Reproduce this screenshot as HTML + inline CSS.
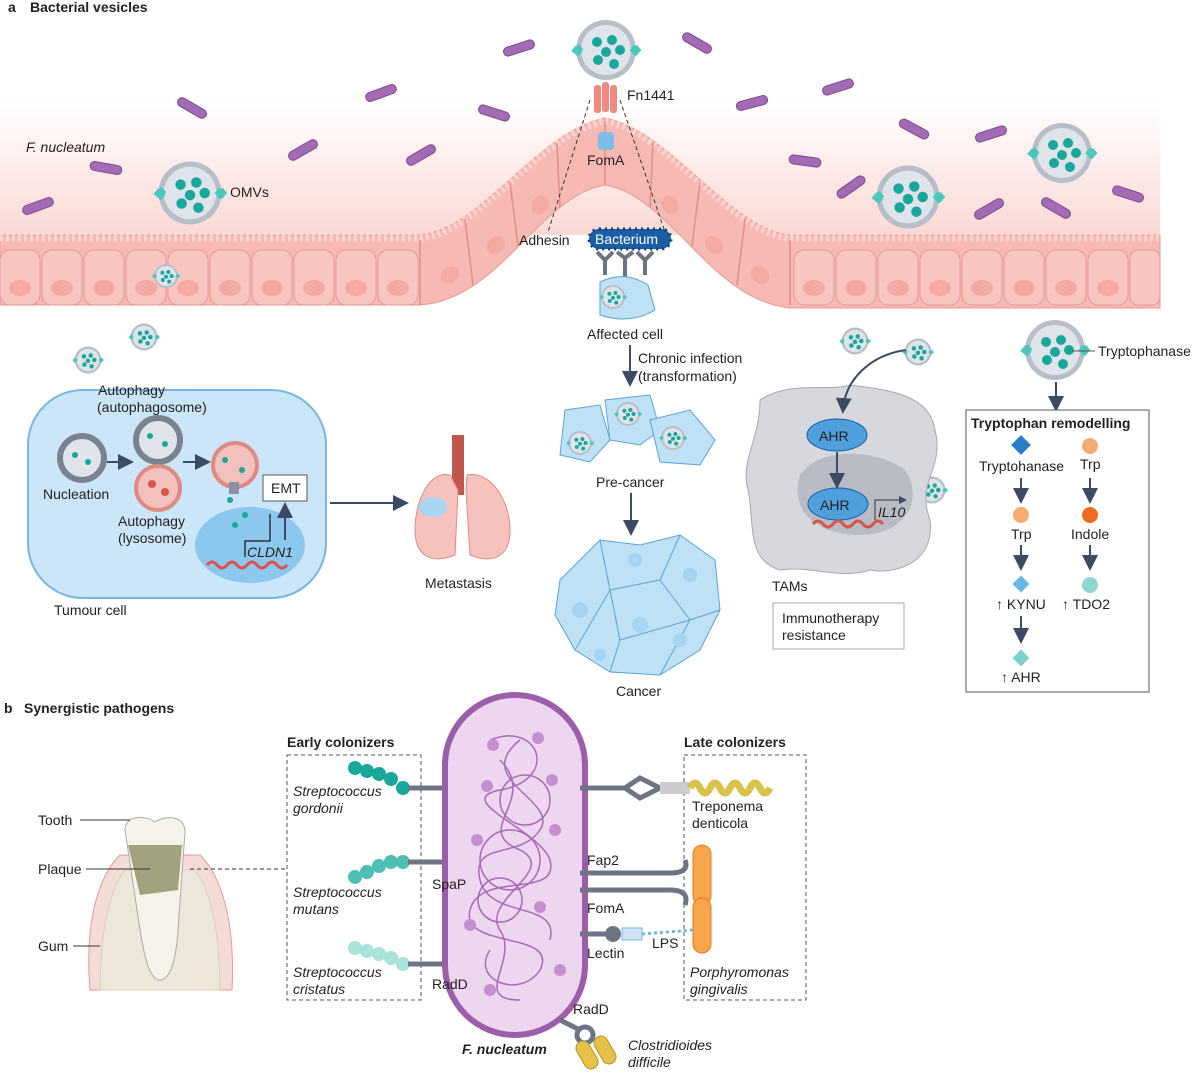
<!DOCTYPE html>
<html><head><meta charset="utf-8"><style>
body{margin:0;background:#fff}
svg{display:block;font-family:"Liberation Sans",sans-serif}
text{fill:#231f20;font-size:14px}
.b{font-weight:bold}
.i{font-style:italic}
</style></head><body>
<svg width="1200" height="1073" viewBox="0 0 1200 1073">
<defs>
<linearGradient id="pk" x1="0" y1="0" x2="0" y2="1"><stop offset="0" stop-color="#fff"/><stop offset="1" stop-color="#fbd9d5"/></linearGradient>
<marker id="ar" markerWidth="8" markerHeight="8" refX="6" refY="4" orient="auto"><path d="M0,0L8,4L0,8z" fill="#3d4a63"/></marker>
<g id="ves"><circle r="30" fill="#b8bec8"/><circle r="25" fill="#dfe3ea"/><circle r="5" cx="-9" cy="-8" fill="#1aa79b"/><circle r="5" cx="6" cy="-10" fill="#1aa79b"/><circle r="5" cx="0" cy="2" fill="#1aa79b"/><circle r="5" cx="14" cy="0" fill="#1aa79b"/><circle r="5" cx="-8" cy="10" fill="#1aa79b"/><circle r="5" cx="8" cy="14" fill="#1aa79b"/><rect x="-26" y="-22" width="9" height="7" fill="#4cc7bb" transform="rotate(-40)"/><rect x="18" y="-22" width="9" height="7" fill="#4cc7bb" transform="rotate(40)"/><rect x="-26" y="16" width="9" height="7" fill="#4cc7bb" transform="rotate(40)"/><rect x="18" y="16" width="9" height="7" fill="#4cc7bb" transform="rotate(-40)"/></g>
<g id="rod"><rect x="-16" y="-4.5" width="32" height="9" rx="4.5" fill="#a46bb5" stroke="#7b4a8c"/></g>
</defs>
<!-- section a -->
<text x="8" y="12" class="b" font-size="16">a</text><text x="30" y="12" class="b" font-size="15">Bacterial vesicles</text>
<path d="M0,100 H1160 V235 H0z" fill="url(#pk)"/>
<path d="M0,235 H420 C480,230 540,130 605,118 C670,130 730,230 790,235 H1160 V308 H790 C710,300 670,195 605,185 C540,195 500,300 420,305 H0z" fill="#f6b9b3" stroke="#e79a94"/>
<path d="M0,238 H420 C480,233 540,133 605,121 C670,133 730,233 790,238 H1160" stroke="#fbd3cf" stroke-width="7" stroke-dasharray="3 3" fill="none"/>
<g fill="#f9c5c0" stroke="#e49a94">
<rect x="0" y="250" width="40" height="55" rx="10"/><rect x="42" y="250" width="40" height="55" rx="10"/><rect x="84" y="250" width="40" height="55" rx="10"/><rect x="126" y="250" width="40" height="55" rx="10"/><rect x="168" y="250" width="40" height="55" rx="10"/><rect x="210" y="250" width="40" height="55" rx="10"/><rect x="252" y="250" width="40" height="55" rx="10"/><rect x="294" y="250" width="40" height="55" rx="10"/><rect x="336" y="250" width="40" height="55" rx="10"/><rect x="378" y="250" width="40" height="55" rx="10"/>
<rect x="794" y="250" width="40" height="55" rx="10"/><rect x="836" y="250" width="40" height="55" rx="10"/><rect x="878" y="250" width="40" height="55" rx="10"/><rect x="920" y="250" width="40" height="55" rx="10"/><rect x="962" y="250" width="40" height="55" rx="10"/><rect x="1004" y="250" width="40" height="55" rx="10"/><rect x="1046" y="250" width="40" height="55" rx="10"/><rect x="1088" y="250" width="40" height="55" rx="10"/><rect x="1130" y="250" width="30" height="55" rx="8"/>
</g>
<g stroke="#e08f89" stroke-width="1.5">
<line x1="465" y1="219" x2="473" y2="285"/><line x1="510" y1="182" x2="518" y2="246"/><line x1="557" y1="143" x2="560" y2="207"/><line x1="605" y1="121" x2="605" y2="185"/>
<line x1="745" y1="219" x2="737" y2="285"/><line x1="700" y1="182" x2="692" y2="246"/><line x1="653" y1="143" x2="650" y2="207"/>
<line x1="420" y1="240" x2="420" y2="305"/><line x1="790" y1="240" x2="790" y2="305"/>
</g>
<g fill="#f4aaa3"><ellipse cx="20" cy="288" rx="11" ry="8"/><ellipse cx="62" cy="288" rx="11" ry="8"/><ellipse cx="104" cy="288" rx="11" ry="8"/><ellipse cx="146" cy="288" rx="11" ry="8"/><ellipse cx="188" cy="288" rx="11" ry="8"/><ellipse cx="230" cy="288" rx="11" ry="8"/><ellipse cx="272" cy="288" rx="11" ry="8"/><ellipse cx="314" cy="288" rx="11" ry="8"/><ellipse cx="356" cy="288" rx="11" ry="8"/><ellipse cx="398" cy="288" rx="11" ry="8"/><ellipse cx="814" cy="288" rx="11" ry="8"/><ellipse cx="856" cy="288" rx="11" ry="8"/><ellipse cx="898" cy="288" rx="11" ry="8"/><ellipse cx="940" cy="288" rx="11" ry="8"/><ellipse cx="982" cy="288" rx="11" ry="8"/><ellipse cx="1024" cy="288" rx="11" ry="8"/><ellipse cx="1066" cy="288" rx="11" ry="8"/><ellipse cx="1108" cy="288" rx="11" ry="8"/>
<ellipse cx="450" cy="275" rx="10" ry="8" transform="rotate(-35 450 275)"/><ellipse cx="496" cy="245" rx="10" ry="8" transform="rotate(-45 496 245)"/><ellipse cx="540" cy="205" rx="10" ry="8" transform="rotate(-60 540 205)"/><ellipse cx="760" cy="275" rx="10" ry="8" transform="rotate(35 760 275)"/><ellipse cx="714" cy="245" rx="10" ry="8" transform="rotate(45 714 245)"/><ellipse cx="670" cy="205" rx="10" ry="8" transform="rotate(60 670 205)"/></g>
<!-- rods -->
<use href="#rod" transform="translate(519,48) rotate(-18)"/><use href="#rod" transform="translate(192,108) rotate(30)"/><use href="#rod" transform="translate(381,93) rotate(-20)"/><use href="#rod" transform="translate(494,113) rotate(18)"/><use href="#rod" transform="translate(303,150) rotate(-30)"/><use href="#rod" transform="translate(421,155) rotate(-30)"/><use href="#rod" transform="translate(106,168) rotate(10)"/><use href="#rod" transform="translate(38,206) rotate(-20)"/><use href="#rod" transform="translate(697,43) rotate(30)"/><use href="#rod" transform="translate(752,103) rotate(-15)"/><use href="#rod" transform="translate(838,87) rotate(-18)"/><use href="#rod" transform="translate(914,129) rotate(28)"/><use href="#rod" transform="translate(991,134) rotate(-18)"/><use href="#rod" transform="translate(805,161) rotate(8)"/><use href="#rod" transform="translate(851,187) rotate(-35)"/><use href="#rod" transform="translate(989,209) rotate(-30)"/><use href="#rod" transform="translate(1056,208) rotate(30)"/><use href="#rod" transform="translate(1128,194) rotate(18)"/>
<!-- vesicles -->
<use href="#ves" transform="translate(606,50)"/><use href="#ves" transform="translate(190,193) scale(1.05)"/><use href="#ves" transform="translate(1062,153)"/><use href="#ves" transform="translate(908,197) scale(1.05)"/>
<use href="#ves" transform="translate(166,276) scale(.4)"/><use href="#ves" transform="translate(144,337) scale(.45)"/><use href="#ves" transform="translate(88,360) scale(.45)"/><use href="#ves" transform="translate(60,411) scale(.45)"/><use href="#ves" transform="translate(855,341) scale(.45)"/><use href="#ves" transform="translate(918,352) scale(.45)"/><use href="#ves" transform="translate(1055,350)"/><use href="#ves" transform="translate(932,490) scale(.45)"/>
<text x="26" y="152" class="i">F. nucleatum</text><text x="230" y="197">OMVs</text>
<!-- receptor -->
<g fill="#ee8a80"><rect x="594" y="85" width="7" height="28" rx="3"/><rect x="602" y="82" width="7" height="30" rx="3"/><rect x="610" y="85" width="7" height="28" rx="3"/></g>
<rect x="598" y="132" width="16" height="18" rx="4" fill="#7cbce8"/>
<text x="627" y="100">Fn1441</text><text x="587" y="165">FomA</text>
<path d="M590,100 L548,232 M620,100 L665,232" stroke="#333" stroke-dasharray="4 3" fill="none"/>
<text x="519" y="245">Adhesin</text>
<rect x="589" y="229" width="82" height="20" rx="10" fill="#1c5ea6" stroke="#0d3d73" stroke-width="3" stroke-dasharray="2 4"/>
<text x="595" y="244" style="fill:#fff">Bacterium</text>
<g stroke="#6e7483" stroke-width="4" fill="none"><path d="M605,260 V275 M625,258 V280 M645,260 V275 M597,252 L605,260 L613,252 M617,252 L625,258 L633,252 M637,252 L645,260 L653,252"/></g>
<path d="M600,282 Q625,270 648,285 L655,310 Q630,325 600,315 Z" fill="#bfe1f6" stroke="#5ba2d8"/>
<use href="#ves" transform="translate(613,297) scale(.4)"/>
<text x="587" y="339">Affected cell</text>
<line x1="630" y1="345" x2="630" y2="383" stroke="#3d4a63" stroke-width="2" marker-end="url(#ar)"/>
<text x="638" y="363">Chronic infection</text><text x="638" y="381">(transformation)</text>
<!-- precancer -->
<g fill="#bfe1f6" stroke="#5ba2d8"><path d="M565,410 L600,405 L610,440 L590,462 L560,455Z"/><path d="M605,400 L650,395 L660,430 L640,445 L610,440Z"/><path d="M650,420 L690,410 L715,440 L700,465 L660,462Z"/></g>
<use href="#ves" transform="translate(580,443) scale(.4)"/><use href="#ves" transform="translate(628,414) scale(.4)"/><use href="#ves" transform="translate(673,438) scale(.4)"/>
<text x="596" y="487">Pre-cancer</text>
<line x1="631" y1="493" x2="631" y2="532" stroke="#3d4a63" stroke-width="2" marker-end="url(#ar)"/>
<g fill="#bfe1f6" stroke="#5ba2d8"><path d="M560,580 L600,540 L640,545 L680,535 L715,560 L720,610 L700,650 L660,675 L610,672 L575,650 L555,615Z"/></g>
<g fill="none" stroke="#5ba2d8"><path d="M600,540 L610,590 L575,650 M610,590 L660,580 L680,535 M660,580 L690,620 L660,675 M690,620 L720,610 M610,590 L620,640 L610,672 M620,640 L690,620"/></g>
<g fill="#a6d3f0"><circle cx="580" cy="610" r="8"/><circle cx="635" cy="560" r="7"/><circle cx="690" cy="575" r="7"/><circle cx="640" cy="625" r="8"/><circle cx="600" cy="655" r="6"/><circle cx="680" cy="640" r="7"/></g>
<text x="616" y="696">Cancer</text>
<!-- tumour cell -->
<rect x="28" y="390" width="298" height="208" rx="55" fill="#cbe6f8" stroke="#7ab6e2" stroke-width="2"/>
<ellipse cx="250" cy="545" rx="55" ry="38" fill="#8cc7ee"/>
<circle cx="82" cy="458" r="22" fill="#dfe3ea" stroke="#7a8292" stroke-width="6"/>
<circle cx="158" cy="440" r="22" fill="#dfe3ea" stroke="#7a8292" stroke-width="6"/>
<circle cx="158" cy="488" r="22" fill="#f3c1bd" stroke="#e08a84" stroke-width="4"/>
<circle cx="235" cy="465" r="22" fill="#f3c1bd" stroke="#e08a84" stroke-width="4"/>
<g fill="#1aa79b"><circle cx="75" cy="455" r="3"/><circle cx="88" cy="462" r="3"/><circle cx="150" cy="436" r="3"/><circle cx="165" cy="444" r="3"/><circle cx="225" cy="460" r="3"/><circle cx="242" cy="470" r="3"/><circle cx="230" cy="500" r="3"/><circle cx="245" cy="515" r="3"/><circle cx="235" cy="525" r="3"/></g>
<g fill="#d9534f"><circle cx="152" cy="484" r="4"/><circle cx="165" cy="492" r="4"/></g>
<line x1="107" y1="462" x2="130" y2="462" stroke="#3d4a63" stroke-width="2" marker-end="url(#ar)"/>
<line x1="183" y1="462" x2="207" y2="462" stroke="#3d4a63" stroke-width="2" marker-end="url(#ar)"/>
<rect x="229" y="482" width="10" height="12" fill="#8a93a3"/>
<text x="98" y="395">Autophagy</text><text x="97" y="412">(autophagosome)</text>
<text x="43" y="499">Nucleation</text><text x="118" y="526">Autophagy</text><text x="118" y="543">(lysosome)</text>
<rect x="263" y="475" width="44" height="26" fill="#fff" stroke="#555"/><text x="271" y="493">EMT</text>
<path d="M245,557 V541 H270 V514" fill="none" stroke="#333" stroke-width="1.5"/>
<line x1="285" y1="540" x2="285" y2="506" stroke="#3d4a63" stroke-width="2" marker-end="url(#ar)"/>
<text x="247" y="557" class="i">CLDN1</text>
<path d="M207,565 q5,-6 10,0 t10,0 t10,0 t10,0 t10,0 t10,0 t10,0 t10,0" fill="none" stroke="#d9534f" stroke-width="3"/>
<text x="54" y="615">Tumour cell</text>
<line x1="330" y1="503" x2="405" y2="503" stroke="#3d4a63" stroke-width="2" marker-end="url(#ar)"/>
<!-- lungs -->
<rect x="452" y="435" width="12" height="60" fill="#c0574f"/>
<path d="M450,475 C430,470 415,500 415,530 C415,555 430,565 455,555 L458,490Z" fill="#f6c2bd" stroke="#e08a84"/>
<path d="M467,475 C490,470 510,500 510,530 C510,555 495,565 470,555 L466,490Z" fill="#f6c2bd" stroke="#e08a84"/>
<ellipse cx="433" cy="507" rx="14" ry="10" fill="#a9d5f3"/>
<text x="425" y="588">Metastasis</text>
<!-- macrophage -->
<path d="M760,400 C790,380 830,392 850,385 C890,390 930,395 935,430 C945,470 915,480 930,520 C935,560 900,575 870,570 C840,580 810,565 780,570 C745,560 755,520 748,490 C740,460 760,440 760,400Z" fill="#d6d8de" stroke="#a5a9b3"/>
<path d="M800,475 C820,445 880,450 905,470 C925,500 905,535 860,535 C810,535 790,505 800,475Z" fill="#b9bcc5"/>
<ellipse cx="837" cy="435" rx="30" ry="16" fill="#4e9fdc" stroke="#1c5ea6"/><text x="819" y="441">AHR</text>
<ellipse cx="838" cy="504" rx="30" ry="16" fill="#4e9fdc" stroke="#1c5ea6"/><text x="820" y="510">AHR</text>
<path d="M906,350 C870,355 845,380 843,410" fill="none" stroke="#3d4a63" stroke-width="2" marker-end="url(#ar)"/>
<line x1="837" y1="452" x2="837" y2="485" stroke="#3d4a63" stroke-width="2" marker-end="url(#ar)"/>
<path d="M875,520 V500 H905" fill="none" stroke="#333" marker-end="url(#ar)"/>
<text x="878" y="517" class="i">IL10</text>
<path d="M813,524 q5,-6 10,0 t10,0 t10,0 t10,0 t10,0 t10,0 t10,0" fill="none" stroke="#d9534f" stroke-width="3"/>
<text x="772" y="591">TAMs</text>
<rect x="773" y="603" width="131" height="46" fill="#fff" stroke="#aaa"/><text x="782" y="623">Immunotherapy</text><text x="782" y="640">resistance</text>
<!-- tryptophan -->
<line x1="1072" y1="351" x2="1095" y2="351" stroke="#555"/><text x="1098" y="356">Tryptophanase</text>
<line x1="1056" y1="382" x2="1056" y2="408" stroke="#3d4a63" stroke-width="2" marker-end="url(#ar)"/>
<rect x="966" y="410" width="183" height="282" fill="#fff" stroke="#555"/>
<text x="971" y="428" class="b" font-size="15">Tryptophan remodelling</text>
<rect x="1014" y="438" width="14" height="14" fill="#2a7cc7" transform="rotate(45 1021 445)"/><circle cx="1090" cy="446" r="8" fill="#f6ab72"/>
<text x="979" y="471" font-size="13">Tryptohanase</text><text x="1080" y="469" font-size="13">Trp</text>
<g stroke="#3d4a63" stroke-width="2" marker-end="url(#ar)"><line x1="1021" y1="478" x2="1021" y2="500"/><line x1="1090" y1="478" x2="1090" y2="500"/><line x1="1021" y1="545" x2="1021" y2="567"/><line x1="1090" y1="545" x2="1090" y2="567"/><line x1="1021" y1="616" x2="1021" y2="640"/></g>
<circle cx="1021" cy="515" r="8" fill="#f6ab72"/><circle cx="1090" cy="515" r="8" fill="#ec6b1f"/>
<text x="1011" y="539" font-size="13">Trp</text><text x="1071" y="539" font-size="13">Indole</text>
<rect x="1015" y="578" width="12" height="12" fill="#6cb3e6" transform="rotate(45 1021 584)"/><circle cx="1090" cy="585" r="8" fill="#8fd6d1"/>
<text x="996" y="609" font-size="13">↑ KYNU</text><text x="1062" y="609" font-size="13">↑ TDO2</text>
<rect x="1015" y="652" width="12" height="12" fill="#7fd1c8" transform="rotate(45 1021 658)"/>
<text x="1001" y="682" font-size="13">↑ AHR</text>
<!-- section b -->
<text x="4" y="713" class="b" font-size="16">b</text><text x="24" y="713" class="b" font-size="15">Synergistic pathogens</text>
<!-- tooth -->
<path d="M90,990 C85,930 95,880 120,855 L200,855 C225,880 235,930 232,990Z" fill="#f3dcd6" stroke="#e59a94"/>
<path d="M100,990 C100,930 110,890 125,870 L195,870 C210,890 220,930 220,990Z" fill="#ece7d8" stroke="#d8cfb6"/>
<path d="M125,830 C125,815 145,815 155,822 C165,815 185,815 185,832 L178,930 C175,975 165,980 160,980 C150,980 145,960 140,930Z" fill="#f6f3ea" stroke="#aaa"/>
<path d="M128,845 L182,845 L178,890 L140,895Z" fill="#8f8d63" opacity=".8"/>
<text x="38" y="825">Tooth</text><line x1="80" y1="820" x2="130" y2="820" stroke="#333"/>
<text x="38" y="874">Plaque</text><line x1="86" y1="869" x2="150" y2="869" stroke="#333"/>
<line x1="190" y1="869" x2="285" y2="869" stroke="#333" stroke-dasharray="4 3"/>
<text x="38" y="951">Gum</text><line x1="73" y1="946" x2="100" y2="946" stroke="#333"/>
<!-- early -->
<text x="287" y="747" class="b">Early colonizers</text>
<rect x="287" y="755" width="134" height="245" fill="none" stroke="#555" stroke-dasharray="4 3"/>
<g fill="#1aa79b"><circle cx="355" cy="768" r="7"/><circle cx="367" cy="771" r="7"/><circle cx="379" cy="774" r="7"/><circle cx="391" cy="779" r="7"/><circle cx="403" cy="788" r="7"/></g>
<g fill="#4dbfb3"><circle cx="355" cy="877" r="7"/><circle cx="367" cy="872" r="7"/><circle cx="379" cy="866" r="7"/><circle cx="391" cy="862" r="7"/><circle cx="403" cy="862" r="7"/></g>
<g fill="#a9e1db"><circle cx="355" cy="948" r="7"/><circle cx="367" cy="951" r="7"/><circle cx="379" cy="954" r="7"/><circle cx="391" cy="958" r="7"/><circle cx="403" cy="964" r="7"/></g>
<g stroke="#6e7483" stroke-width="5" fill="none"><path d="M408,788 H445 M408,862 H445 M408,964 H445"/></g>
<text x="293" y="796" class="i">Streptococcus</text><text x="293" y="813" class="i">gordonii</text>
<text x="293" y="897" class="i">Streptococcus</text><text x="293" y="914" class="i">mutans</text>
<text x="293" y="977" class="i">Streptococcus</text><text x="293" y="994" class="i">cristatus</text>
<!-- F nucleatum -->
<rect x="445" y="695" width="140" height="340" rx="70" fill="#eed5f0" stroke="#9b5ea9" stroke-width="6"/>
<g fill="none" stroke="#a76bb6" stroke-width="1.5"><path d="M490,740 C540,720 560,780 500,790 C450,800 540,830 550,860 C560,900 480,870 470,910 C460,950 560,930 540,970 C520,1000 470,980 490,950 M520,740 C470,780 560,800 540,830 C520,860 470,840 480,880 C490,920 560,900 550,940 M500,760 C540,800 470,830 520,850 C560,870 480,900 500,930 C520,960 470,1000 520,1000"/><circle cx="510" cy="860" r="30"/><circle cx="500" cy="900" r="22"/><circle cx="525" cy="800" r="25"/></g>
<g fill="#c48fcf"><circle cx="493" cy="745" r="6"/><circle cx="538" cy="738" r="6"/><circle cx="552" cy="780" r="6"/><circle cx="487" cy="786" r="6"/><circle cx="555" cy="830" r="6"/><circle cx="477" cy="840" r="6"/><circle cx="470" cy="925" r="6"/><circle cx="540" cy="907" r="6"/><circle cx="560" cy="970" r="6"/><circle cx="490" cy="990" r="6"/></g>
<text x="432" y="889">SpaP</text><text x="432" y="989">RadD</text>
<text x="462" y="1054" class="b i">F. nucleatum</text>
<!-- late -->
<text x="684" y="747" class="b">Late colonizers</text>
<rect x="684" y="755" width="122" height="245" fill="none" stroke="#555" stroke-dasharray="4 3"/>
<path d="M580,788 H625 L640,778 L660,788 L640,798 L625,788" stroke="#6e7483" stroke-width="5" fill="none"/>
<path d="M660,782 L690,782 L690,794 L660,794Z" fill="#ccc"/>
<path d="M690,788 q5,-10 10,0 t10,0 t10,0 t10,0 t10,0 t10,0 t10,0 t10,0" fill="none" stroke="#d8c24a" stroke-width="7"/>
<text x="692" y="811">Treponema</text><text x="692" y="828">denticola</text>
<rect x="693" y="845" width="18" height="60" rx="9" fill="#f6a54a" stroke="#e07a22"/><rect x="693" y="898" width="18" height="55" rx="9" fill="#f6a54a" stroke="#e07a22"/>
<g stroke="#6e7483" stroke-width="5" fill="none"><path d="M580,873 H670 Q690,873 685,860 M580,890 H670 Q690,890 685,905 M580,934 H610"/></g>
<circle cx="613" cy="934" r="8" fill="#6e7483"/>
<rect x="622" y="928" width="20" height="12" fill="#cfe3f5" stroke="#7ab6e2"/>
<line x1="642" y1="934" x2="693" y2="930" stroke="#7ab6e2" stroke-width="3" stroke-dasharray="3 3"/>
<text x="587" y="865">Fap2</text><text x="587" y="913">FomA</text><text x="587" y="958">Lectin</text><text x="652" y="948">LPS</text>
<text x="690" y="977" class="i">Porphyromonas</text><text x="690" y="994" class="i">gingivalis</text>
<text x="573" y="1014">RadD</text>
<path d="M560,1020 L580,1030" stroke="#6e7483" stroke-width="5"/>
<circle cx="585" cy="1035" r="8" fill="none" stroke="#6e7483" stroke-width="5"/>
<rect x="580" y="1040" width="14" height="30" rx="7" fill="#e7c24a" stroke="#b99320" transform="rotate(-30 587 1055)"/><rect x="598" y="1035" width="14" height="30" rx="7" fill="#e7c24a" stroke="#b99320" transform="rotate(-30 605 1050)"/>
<text x="628" y="1050" class="i">Clostridioides</text><text x="628" y="1067" class="i">difficile</text>
</svg>
</body></html>
